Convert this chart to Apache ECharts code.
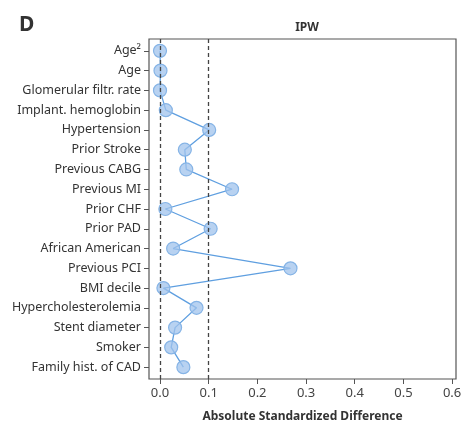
<!DOCTYPE html>
<html>
<head>
<meta charset="utf-8">
<script src="https://cdn.jsdelivr.net/npm/echarts@6/dist/echarts.min.js"></script>
<style>
  html, body { margin: 0; padding: 0; background: #fff; }
  #main { width: 475px; height: 436px; }
</style>
</head>
<body>
<div id="main"></div>
<script>
// covariates, top to bottom
var covariates = ['Age²', 'Age', 'Glomerular filtr. rate', 'Implant. hemoglobin', 'Hypertension',
    'Prior Stroke', 'Previous CABG', 'Previous MI', 'Prior CHF', 'Prior PAD', 'African American',
    'Previous PCI', 'BMI decile', 'Hypercholesterolemia', 'Stent diameter', 'Smoker', 'Family hist. of CAD'];
// absolute standardized difference after IPW
var asdValues = [0.0, 0.001, 0.0, 0.012, 0.101, 0.051, 0.054, 0.148, 0.011, 0.104, 0.027,
    0.268, 0.007, 0.075, 0.031, 0.023, 0.048];
var refLines = [0, 0.1];
var xTicks = [0, 0.1, 0.2, 0.3, 0.4, 0.5, 0.6];

var idx = covariates.map(function (c, i) { return i; });
var points = asdValues.map(function (v, i) { return [v, i]; });

var myChart = echarts.init(document.getElementById('main'));
var font = 'Noto Sans';
var option = {
    animation: false,
    textStyle: { fontFamily: font },
    title: [
        { text: 'D', left: 14, top: 10, textStyle: { fontSize: 21, fontWeight: 'bold', color: '#333', fontFamily: font } },
        { text: 'IPW', left: 302, top: 17, textAlign: 'center', textStyle: { fontSize: 12, fontWeight: 'bold', color: '#333', fontFamily: font } }
    ],
    grid: { left: 149, right: 19, top: 39, bottom: 57, show: true, borderColor: '#555', borderWidth: 1.2, backgroundColor: 'transparent' },
    xAxis: {
        type: 'value', min: -0.0226, max: 0.608,
        name: 'Absolute Standardized Difference', nameLocation: 'middle', nameGap: 32,
        nameTextStyle: { fontSize: 12, fontWeight: 'bold', color: '#333', fontFamily: font },
        axisLine: { show: false, onZero: false },
        splitLine: { show: false },
        axisTick: { show: true, length: 5, lineStyle: { color: '#555' }, customValues: xTicks },
        axisLabel: { customValues: xTicks, fontSize: 13, color: '#444', margin: 8,
            formatter: function (v) { return v.toFixed(1); } }
    },
    yAxis: {
        type: 'value', inverse: true, min: -0.6, max: 16.6,
        axisLine: { show: false, onZero: false },
        splitLine: { show: false },
        axisTick: { show: true, length: 5, lineStyle: { color: '#555' }, customValues: idx },
        axisLabel: { customValues: idx, fontSize: 12.5, color: '#333', margin: 8,
            formatter: function (v) { return covariates[Math.round(v)]; } }
    },
    series: [
        {
            type: 'line', data: points, z: 3,
            symbol: 'circle', symbolSize: 13,
            lineStyle: { color: '#5f9fe0', width: 1.3 },
            itemStyle: { color: 'rgba(160,195,236,0.75)', borderColor: '#86b4e6', borderWidth: 1.2 },
            markLine: {
                silent: true, symbol: 'none', label: { show: false },
                lineStyle: { color: '#444', type: [4, 3], width: 1.3 },
                data: refLines.map(function (v) { return { xAxis: v }; })
            }
        }
    ]
};
myChart.setOption(option);
</script>
</body>
</html>
